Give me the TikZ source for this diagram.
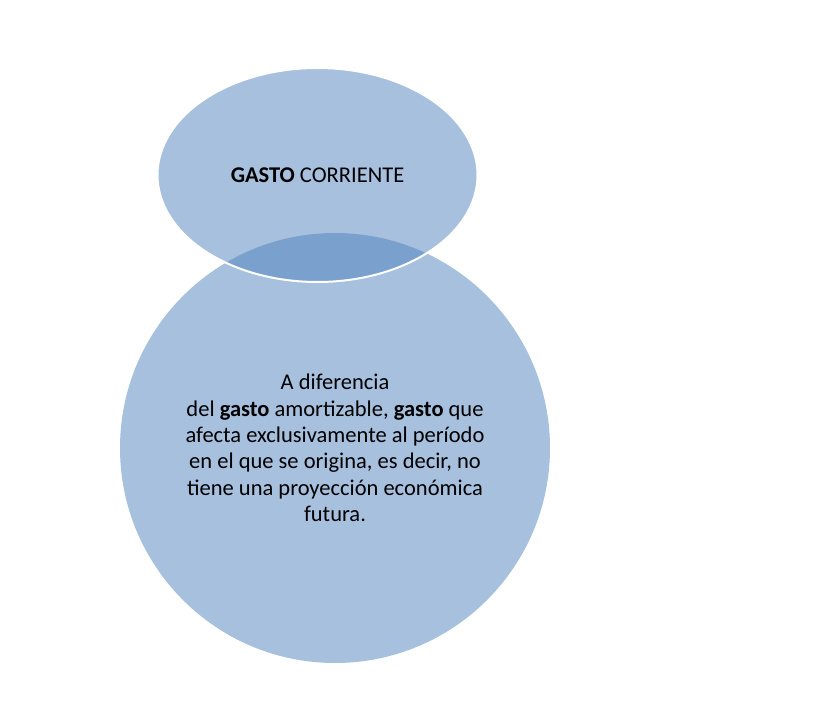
\documentclass[tikz,border=0pt]{standalone}
\usepackage{fontspec}
\setmainfont{Carlito}
\usepackage{tikz}
\usetikzlibrary{shapes.geometric}
\definecolor{accent}{HTML}{4F81BD}
\tikzset{
	bubble/.style={fill=accent, fill opacity=.5, text opacity=1, inner sep=0pt, align=center, font=\fontsize{22.5}{26.4}\selectfont}
}
\tikzstyle{topbubble}=[bubble, ellipse, draw=white, line width=2pt, minimum width=320pt, minimum height=214pt]
\tikzstyle{bigbubble}=[bubble, circle, minimum size=430pt]

\begin{document}
\begin{tikzpicture}[x=1pt,y=1pt]
	\useasboundingbox (0,0) rectangle (822,702);
	\node[bigbubble] (def) at (335,254) {A diferencia\\del \textbf{gasto} amortizable, \textbf{gasto} que\\afecta exclusivamente al período\\en el que se origina, es decir, no\\tiene una proyección económica\\futura.};
	\node[topbubble] (title) at (317.5,527) {\textbf{GASTO} CORRIENTE};
\end{tikzpicture}
\end{document}
